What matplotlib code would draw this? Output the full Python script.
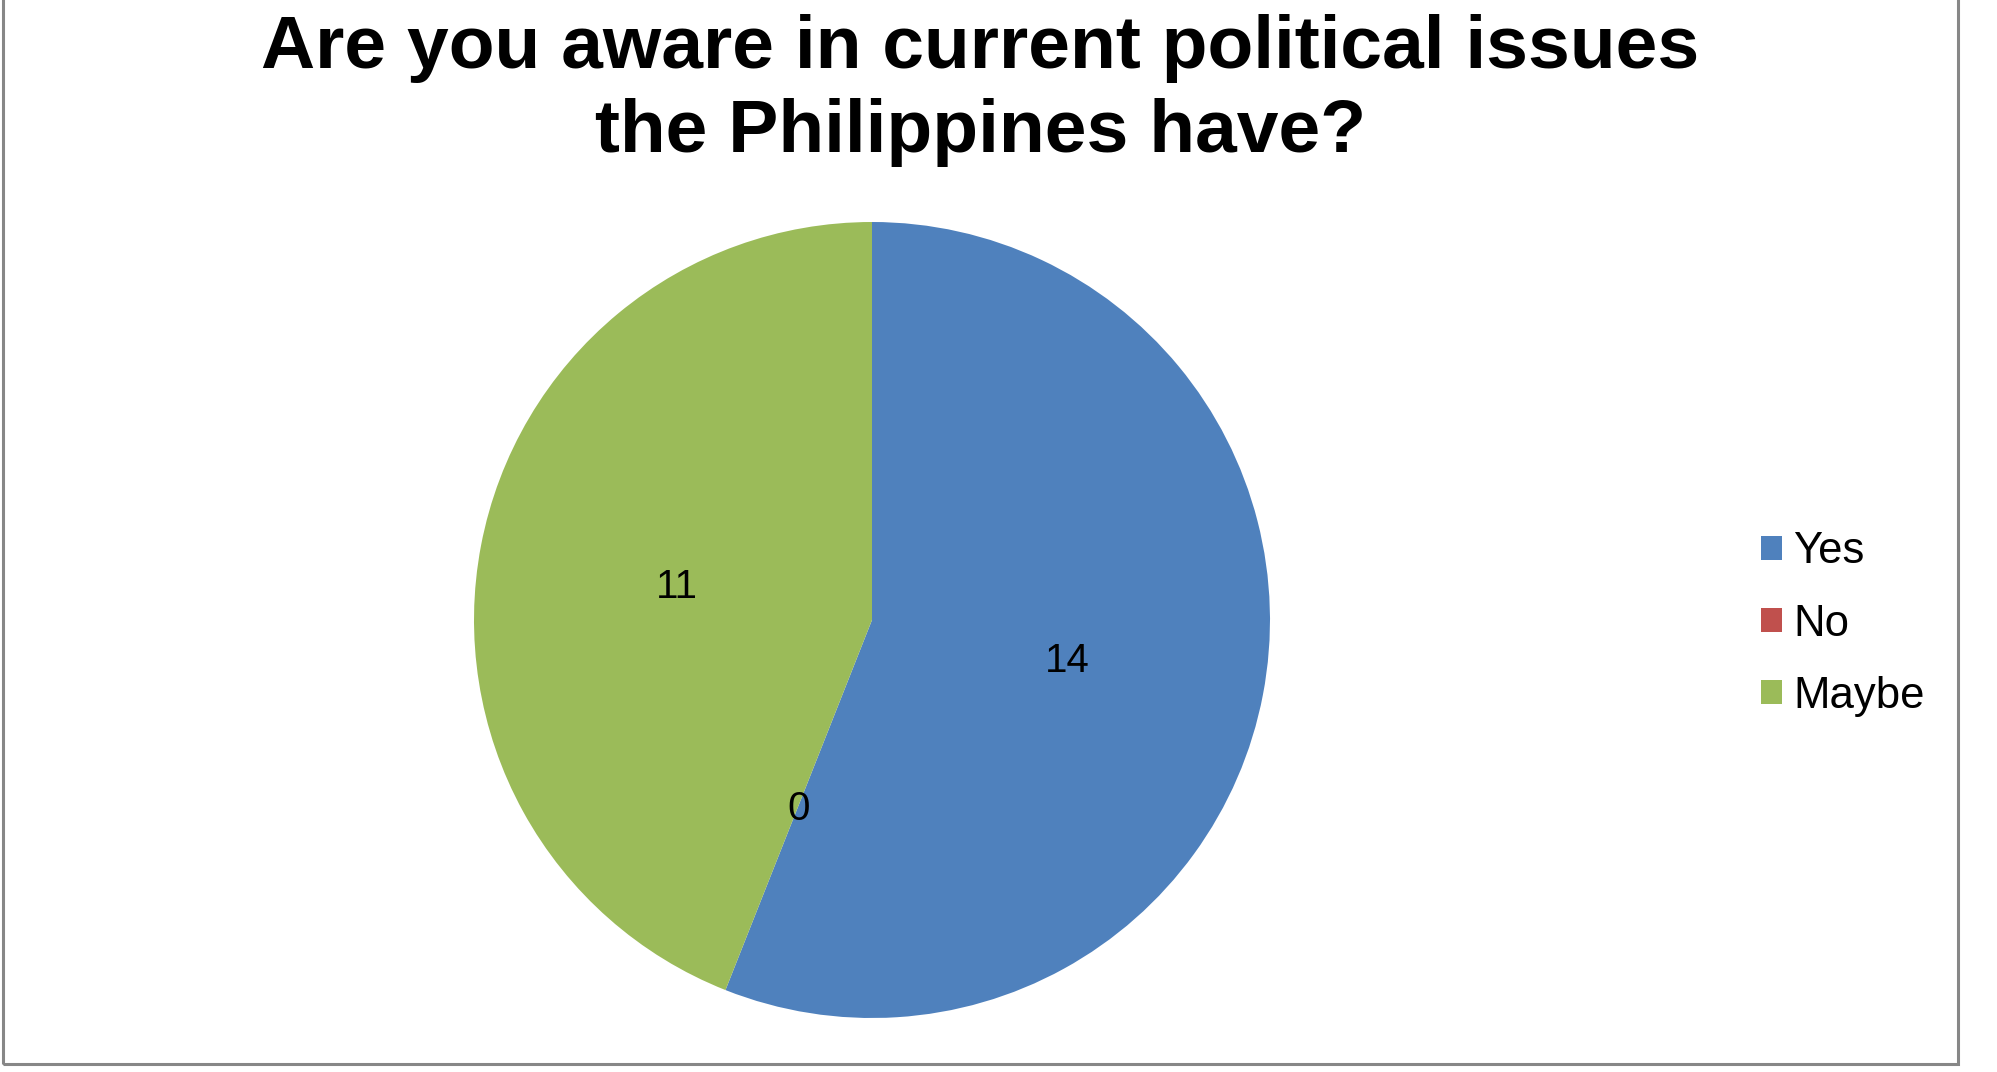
import matplotlib
matplotlib.use('Agg')
import matplotlib.pyplot as plt
from matplotlib.patches import Patch, Rectangle

# data
categories = ['Yes', 'No', 'Maybe']
counts = [14, 0, 11]
colors = ['#4F81BD', '#C0504D', '#9BBB59']
title_lines = ['Are you aware in current political issues', 'the Philippines have?']

plt.rcParams['font.family'] = ['Liberation Sans', 'DejaVu Sans']

W, H = 1997, 1072
fig = plt.figure(figsize=(W / 100, H / 100), dpi=100)

# pie axes: centre (872, 620), radius 398 px
cx, cy, r = 872, 620, 398
ax = fig.add_axes([(cx - r) / W, (H - cy - r) / H, 2 * r / W, 2 * r / H])
total = sum(counts)
ax.pie(counts, colors=colors, startangle=90, counterclock=False,
       autopct=lambda p: '%d' % round(p * total / 100), pctdistance=0.5,
       textprops={'fontsize': 29, 'color': 'black', 'va': 'center_baseline'},
       wedgeprops={'linewidth': 0})
ax.set_xlim(-1, 1)
ax.set_ylim(-1, 1)
ax.set_aspect('equal')
ax.axis('off')

# title, centred on the chart frame, baselines at 68 and 152 px
tx = 980.5 / W
fig.text(tx, 1 - 68 / H, title_lines[0], ha='center', va='baseline',
         fontsize=54, fontweight='bold')
fig.text(tx, 1 - 152 / H, title_lines[1], ha='center', va='baseline',
         fontsize=54, fontweight='bold')

# legend
handles = [Patch(facecolor=c, edgecolor='none', label=l) for c, l in zip(colors, categories)]
fig.legend(handles=handles, loc='center left', bbox_to_anchor=(1761 / W, 1 - 624 / H),
           frameon=False, fontsize=31.5, handlelength=0.48, handleheight=0.48,
           handletextpad=0.25, labelspacing=0.71, borderpad=0, borderaxespad=0)

# outer border (no top edge visible)
fig.patches.append(Rectangle((3 / W, 8 / H), 1955 / W, 1.2, transform=fig.transFigure,
                             fill=False, edgecolor='#878787', linewidth=2.2))

fig.savefig('out.png', dpi=100)
